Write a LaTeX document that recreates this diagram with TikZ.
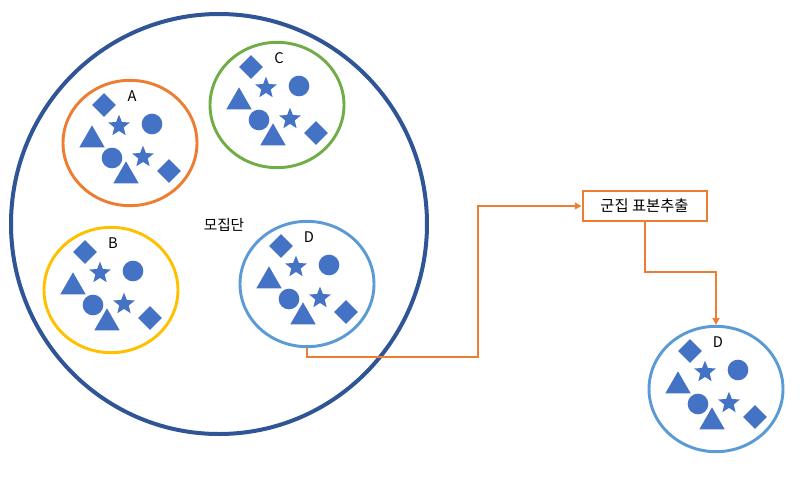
\documentclass[tikz,border=0pt]{standalone}
\usepackage{fontspec}
\setmainfont{Noto Sans CJK KR}
\usetikzlibrary{shapes.geometric,arrows.meta}
\definecolor{big}{HTML}{2F5597}
\definecolor{sh}{HTML}{4472C4}
\definecolor{orA}{HTML}{ED7D31}
\definecolor{grC}{HTML}{70AD47}
\definecolor{yeB}{HTML}{FFC000}
\definecolor{blD}{HTML}{5B9BD5}
\tikzset{
 dia/.style={diamond,fill=sh,minimum size=18pt,inner sep=0pt},
 cir/.style={circle,fill=sh,minimum size=15.5pt,inner sep=0pt},
 tri/.style={regular polygon,regular polygon sides=3,fill=sh,minimum size=22pt,inner sep=0pt},
 sta/.style={star,star points=5,star point ratio=2.3,fill=sh,minimum size=17pt,inner sep=0pt},
 ring/.style={draw,line width=2.2pt,ellipse,minimum width=100.5pt,minimum height=94pt},
 lbl/.style={font=\fontsize{11}{13}\selectfont},
 conn/.style={draw=orA,line width=1.5pt},
 pics/grp/.style={code={
 \node[dia] at (-26,-38) {};
 \node[lbl] at (2,-47) {#1};
 \node[sta] at (-11,-17) {};
 \node[cir] at (22,-19) {};
 \node[tri] at (-38,-3) {};
 \node[cir] at (-18,15) {};
 \node[sta] at (13,14) {};
 \node[tri] at (-4,33) {};
 \node[dia] at (39,28) {};
 }},
}
\begin{document}
\begin{tikzpicture}[x=0.75pt,y=-0.75pt]
\useasboundingbox (0,0) rectangle (800,483);
\node[draw=big,line width=3pt,ellipse,minimum width=312pt,minimum height=315pt] (pop) at (219,224) {};
\node[ring,draw=orA] (A) at (130,143) {};
\node[ring,draw=grC] (C) at (277,105) {};
\node[ring,draw=yeB] (B) at (111,290) {};
\node[ring,draw=blD] (D) at (307,284) {};
\node[ring,draw=blD] (D2) at (716,389) {};
\pic at (130,143) {grp=A};
\pic at (277,105) {grp=C};
\pic at (111,290) {grp=B};
\pic at (307,284) {grp=D};
\pic at (716,389) {grp=D};
\node[lbl] (lab) at (224,225) {모집단};
\node[draw=orA,line width=1.5pt,minimum width=93pt,minimum height=22pt,inner sep=0pt,font=\fontsize{11.5}{13}\selectfont] (box) at (644.5,206) {군집 표본추출};
\draw[conn,-{Triangle[length=5pt,width=5pt]}] (D.south) |- (478,357) |- (box.west);
\draw[conn,-{Triangle[length=5pt,width=5pt]}] (box.south) |- (716,272) -- (D2.north);
\end{tikzpicture}
\end{document}
